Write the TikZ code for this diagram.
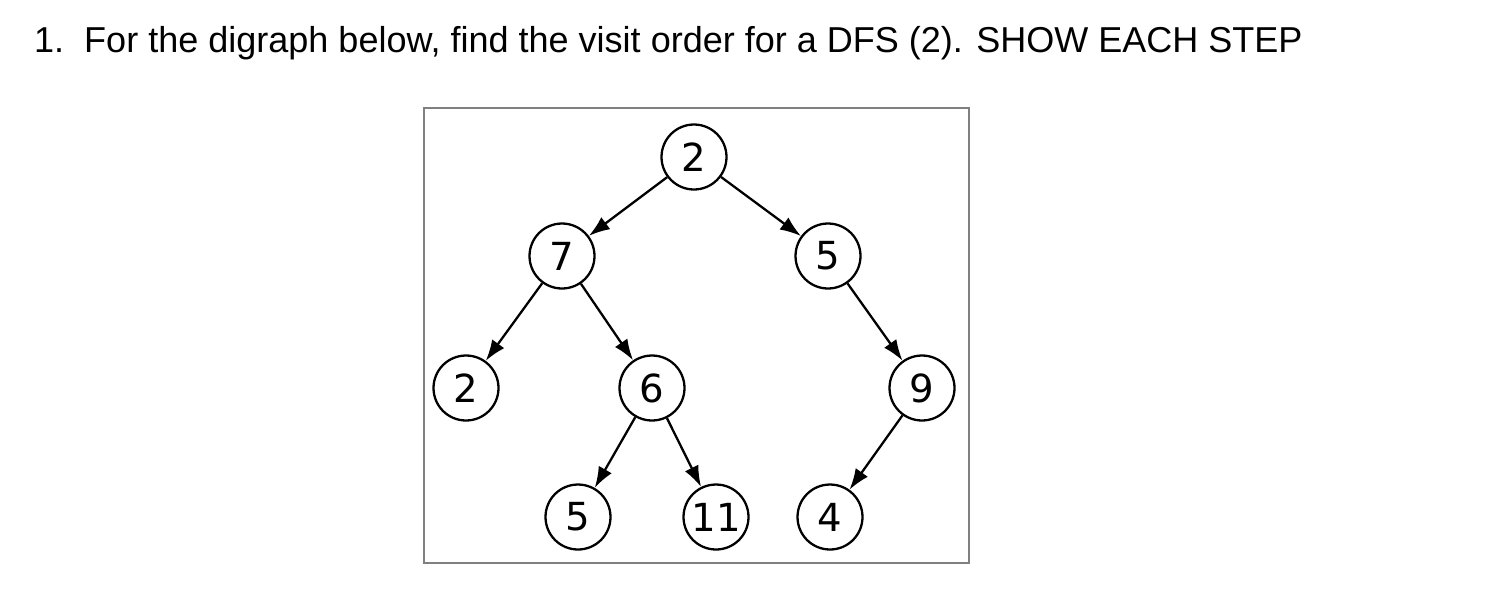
\documentclass[tikz,border=0pt]{standalone}
\usepackage{fontspec}
\setmainfont{Liberation Sans}
\newfontfamily\nodefont{DejaVu Sans}
\usetikzlibrary{arrows.meta}
\begin{document}
\begin{tikzpicture}[x=0.02cm,y=-0.02cm,
  vx/.style={circle,draw,line width=1.3pt,minimum size=1.3cm,inner sep=0pt,font=\nodefont\fontsize{22}{22}\selectfont},
  ed/.style={line width=1.3pt,-{Latex[length=0.42cm,width=0.3cm]}}]
\useasboundingbox (0,0) rectangle (1500,596);
\node[anchor=base west,font=\fontsize{20.5}{24}\selectfont] (t) at (28,52) {1.\ \ For the digraph below, find the visit order for a DFS (2). SHOW EACH STEP};
\draw[gray,line width=1pt] (424,108) rectangle (969,563);
\node[vx] (a) at (694,157) {2};
\node[vx] (b) at (562,256) {7};
\node[vx] (c) at (828,256) {5};
\node[vx] (d) at (466,388) {2};
\node[vx] (e) at (652,388) {6};
\node[vx] (f) at (922,388) {9};
\node[vx] (g) at (578,517) {5};
\node[vx] (h) at (716,517) {11};
\node[vx] (i) at (830,517) {4};
\draw[ed] (a) -- (b);
\draw[ed] (a) -- (c);
\draw[ed] (b) -- (d);
\draw[ed] (b) -- (e);
\draw[ed] (c) -- (f);
\draw[ed] (e) -- (g);
\draw[ed] (e) -- (h);
\draw[ed] (f) -- (i);
\end{tikzpicture}
\end{document}
